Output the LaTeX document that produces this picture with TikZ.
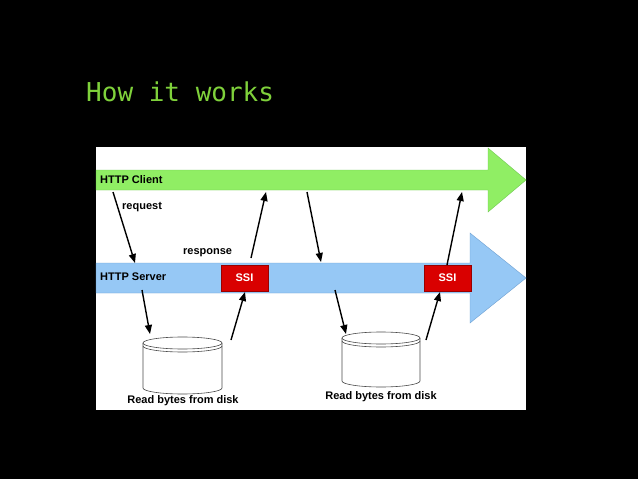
\documentclass[tikz,border=0pt]{standalone}
\usepackage{fontspec}
\setmainfont{Liberation Sans}
\newfontfamily\monof{DejaVu Sans Mono}
\usetikzlibrary{shapes.geometric,arrows.meta}
\begin{document}
\begin{tikzpicture}[x=1pt,y=-1pt,
  lbl/.style={font=\bfseries\fontsize{11}{12}\selectfont,inner sep=0pt},
  arr/.style={line width=1.4pt,-{Triangle[length=9pt,width=7pt]}},
  ssi/.style={draw=red!60!black,fill=red!85!black,minimum width=47pt,minimum height=26pt,inner sep=0pt,text=white,font=\bfseries\fontsize{11}{12}\selectfont},
  disk/.style={draw=black!70,fill=white,line width=0.6pt}]
\fill[black] (0,0) rectangle (638,479);
\node[anchor=base west,inner sep=0pt,text={rgb,255:red,127;green,209;blue,59},font=\monof\fontsize{26}{28}\selectfont] (title) at (86,101) {How it works};
\fill[white] (96,147) rectangle (526,410);
% client arrow
\draw[fill={rgb,255:red,144;green,238;blue,100},draw={rgb,255:red,110;green,200;blue,80}] (96,170) -- (488,170) -- (488,148) -- (526,180) -- (488,212) -- (488,190) -- (96,190) -- cycle;
% server arrow
\draw[fill={rgb,255:red,150;green,200;blue,245},draw={rgb,255:red,110;green,160;blue,210}] (96,263) -- (470,263) -- (470,233) -- (526,278) -- (470,323) -- (470,293) -- (96,293) -- cycle;
\node[lbl,anchor=west] (client) at (100,180) {HTTP Client};
\node[lbl,anchor=west] (server) at (100,277) {HTTP Server};
\node[lbl,anchor=west] (req) at (122,207) {request};
\node[lbl,anchor=west] (resp) at (183,253) {response};
\node[ssi] (ssi1) at (244.5,278) {SSI};
\node[ssi] (ssi2) at (447.5,278) {SSI};
% disks
\foreach \n/\xa/\xb/\yt/\yb in {d1/143/222/343/388, d2/342/420/338/381}{
  \pgfmathsetmacro\cx{(\xa+\xb)/2}\pgfmathsetmacro\rx{(\xb-\xa)/2}
  \draw[disk] (\xa,\yt) -- (\xa,\yb) arc[start angle=180,end angle=360,x radius=\rx,y radius=-6] -- (\xb,\yt);
  \draw[disk] (\cx,\yt) ellipse[x radius=\rx,y radius=6];
  \draw[black!70,line width=0.6pt] (\xa,\yt+3) arc[start angle=180,end angle=360,x radius=\rx,y radius=-6];
  \coordinate (\n) at (\cx,\yt);
}
\node[lbl] (t1) at (183,401) {Read bytes from disk};
\node[lbl] (t2) at (381,397) {Read bytes from disk};
\coordinate (a1) at (113,192); \coordinate (a2) at (135,263);
\coordinate (b1) at (142,290); \coordinate (b2) at (150,334);
\coordinate (c1) at (231,340); \coordinate (c2) at (245,292);
\coordinate (e1) at (251,258); \coordinate (e2) at (266,192);
\coordinate (f1) at (307,192); \coordinate (f2) at (321,262);
\coordinate (g1) at (335,290); \coordinate (g2) at (346,334);
\coordinate (h1) at (426,340); \coordinate (h2) at (440,292);
\coordinate (k1) at (447,265); \coordinate (k2) at (462,192);
\foreach \p in {a,b,c,e,f,g,h,k}{\draw[arr] (\p1) -- (\p2);}
\end{tikzpicture}
\end{document}
